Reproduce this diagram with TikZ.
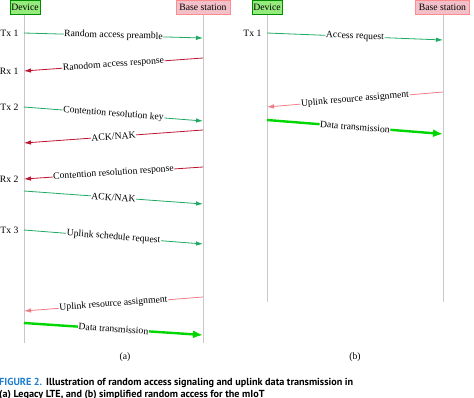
\documentclass[tikz,border=0pt]{standalone}
\usepackage{fontspec}
\setmainfont{Liberation Serif}
\newfontfamily\capfont{PT Sans}
\usetikzlibrary{arrows.meta}
\definecolor{upgreen}{RGB}{30,170,100}
\definecolor{downred}{RGB}{190,20,50}
\definecolor{lightred}{RGB}{240,125,135}
\definecolor{datagreen}{RGB}{0,215,0}
\definecolor{devfill}{RGB}{150,235,125}
\definecolor{bsfill}{RGB}{242,192,200}
\definecolor{lifegray}{RGB}{200,200,200}
\definecolor{capblue}{RGB}{30,125,205}

\begin{document}
\begin{tikzpicture}[x=1pt,y=-1pt,
  every node/.style={font=\fontsize{9.7}{11}\selectfont},
  devbox/.style={draw=green!55!black,fill=devfill,minimum height=14pt,inner sep=1.5pt},
  bsbox/.style={draw=red!45,fill=bsfill,minimum height=14pt,inner sep=3.5pt},
  life/.style={lifegray,line width=0.8pt},
  msg/.style={line width=0.8pt,-{Latex[length=7pt,width=4.5pt]}},
  big/.style={line width=2.4pt,-{Latex[length=10pt,width=8pt]}},
  lbl/.style={midway,sloped,fill=white,inner sep=0.6pt}]
\useasboundingbox (0,0) rectangle (474,397);
\begin{scope}
\node[devbox] (devA) at (25,7.5) {Device};
\node[bsbox] (bsA) at (203,7.5) {Base station};
\node[devbox] (devB) at (267,7.5) {Device};
\node[bsbox] (bsB) at (442.5,7.5) {Base station};
\end{scope}
\coordinate (endA) at (24,343);
\coordinate (endAb) at (203,343);
\coordinate (endB) at (267,302);
\coordinate (endBb) at (443,302);
\draw[life] (devA.south) ++(-1,0) -- (endA);
\draw[life] (bsA) -- (endAb);
\draw[life] (devB) -- (endB);
\draw[life] (bsB.south) ++(0.5,0) -- (endBb);
% (a) legacy LTE
\coordinate (a1) at (24,33);  \coordinate (b1) at (203,38);
\coordinate (b2) at (203,58); \coordinate (a2) at (24,71);
\coordinate (a3) at (24,107); \coordinate (b3) at (203,121);
\coordinate (b4) at (203,130); \coordinate (a4) at (24,143);
\coordinate (b5) at (203,167); \coordinate (a5) at (24,179);
\coordinate (a6) at (24,191); \coordinate (b6) at (203,204);
\coordinate (a7) at (24,230); \coordinate (b7) at (203,244);
\coordinate (b8) at (203,297); \coordinate (a8) at (24,311);
\coordinate (a9) at (24,323); \coordinate (b9) at (203,335);
\draw[msg,upgreen] (a1) -- (b1) node[lbl,text=black] {Random access preamble};
\draw[msg,downred] (b2) -- (a2) node[lbl,text=black] {Ranodom access response};
\draw[msg,upgreen] (a3) -- (b3) node[lbl,text=black] {Contention resolution key};
\draw[msg,downred] (b4) -- (a4) node[lbl,text=black] {ACK/NAK};
\draw[msg,downred] (b5) -- (a5) node[lbl,text=black] {Contention resolution response};
\draw[msg,upgreen] (a6) -- (b6) node[lbl,text=black] {ACK/NAK};
\draw[msg,upgreen] (a7) -- (b7) node[lbl,text=black] {Uplink schedule request};
\draw[msg,lightred] (b8) -- (a8) node[lbl,text=black] {Uplink resource assignment};
\draw[big,datagreen] (a9) -- (b9) node[lbl,text=black] {Data transmission};
\node[anchor=east] (tx1) at (22,33) {Tx 1};
\node[anchor=east] (rx1) at (22,71) {Rx 1};
\node[anchor=east] (tx2) at (22,107) {Tx 2};
\node[anchor=east] (rx2) at (22,179) {Rx 2};
\node[anchor=east] (tx3) at (22,230) {Tx 3};
\node (capa) at (125,357) {(a)};
% (b) simplified
\coordinate (c1) at (267,33);  \coordinate (d1) at (443,40);
\coordinate (d2) at (443,92);  \coordinate (c2) at (267,107);
\coordinate (c3) at (267,120); \coordinate (d3) at (443,134);
\draw[msg,upgreen] (c1) -- (d1) node[lbl,text=black] {Access request};
\draw[msg,lightred] (d2) -- (c2) node[lbl,text=black] {Uplink resource assignment};
\draw[big,datagreen] (c3) -- (d3) node[lbl,text=black] {Data transmission};
\node[anchor=east] (tx1b) at (265,33) {Tx 1};
\node (capb) at (355,357) {(b)};
% caption
\node[anchor=base west,inner sep=0pt,font=\capfont\bfseries\fontsize{10.2}{12}\selectfont] (cap1) at (-1,385)
  {\textcolor{capblue}{FIGURE 2.}\hspace{4pt}Illustration of random access signaling and uplink data transmission in};
\node[anchor=base west,inner sep=0pt,font=\capfont\bfseries\fontsize{10.2}{12}\selectfont] (cap2) at (-1,397)
  {(a) Legacy LTE, and (b) simplified random access for the mIoT};
\end{tikzpicture}
\end{document}
